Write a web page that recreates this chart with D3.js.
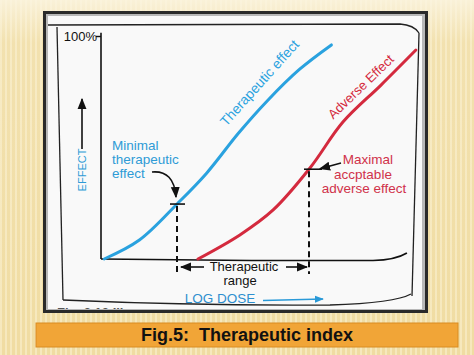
<!DOCTYPE html>
<html><head><meta charset="utf-8">
<script src="https://cdn.jsdelivr.net/npm/d3@7"></script>
<style>
html,body{margin:0;padding:0;background:#f1dfa8;}
svg{display:block;font-family:"Liberation Sans",Arial,sans-serif;}
</style></head>
<body>
<svg id="c" width="474" height="355"></svg>
<script>
// ---- data (log dose units 0-100, effect %) ----
const therapeuticDose   = [1, 12, 24, 33, 43, 52, 62, 72];
const therapeuticEffect = [0, 8.5, 25, 38.5, 56.5, 71, 85, 96];
const adverseDose       = [30.3, 43.4, 53.8, 65.3, 75.6, 87.5, 98.4];
const adverseEffect     = [0, 10.8, 22, 40.8, 61.4, 78, 93.7];
const minTherapeuticDose = 23.75;   // minimal therapeutic effect
const maxAdverseDose     = 65;      // maximal acceptable adverse effect
const yTicks = [100];
const seriesLabels = ["Therapeutic effect", "Adverse Effect"];
const minLabel = ["Minimal", "therapeutic", "effect"];
const maxLabel = ["Maximal", "accptable", "adverse effect"];
const rangeLabel = ["Therapeutic", "range"];
const xTitle = "LOG DOSE", yTitle = "EFFECT";
const bookCaption = "Fig. 2.12 Ill";
const caption = "Fig.5:  Therapeutic index";

const svg = d3.select("#c");
const defs = svg.append("defs");

// background slide
const pat = defs.append("pattern").attr("id","stripes").attr("width",5).attr("height",10)
  .attr("patternUnits","userSpaceOnUse");
pat.append("rect").attr("width",5).attr("height",10).attr("fill","#f0dca2");
pat.append("rect").attr("width",2).attr("height",10).attr("fill","#f6e8bd");
const g1 = defs.append("linearGradient").attr("id","fade").attr("x1",0).attr("y1",0).attr("x2",0).attr("y2",1);
g1.append("stop").attr("offset","0").attr("stop-color","#fbf5e2").attr("stop-opacity",0.85);
g1.append("stop").attr("offset","0.12").attr("stop-color","#fbf5e2").attr("stop-opacity",0.2);
g1.append("stop").attr("offset","1").attr("stop-color","#fbf5e2").attr("stop-opacity",0);
svg.append("rect").attr("width",474).attr("height",355).attr("fill","url(#stripes)");
svg.append("rect").attr("width",474).attr("height",355).attr("fill","url(#fade)");

// frame
svg.append("rect").attr("x",43).attr("y",11).attr("width",385).attr("height",302).attr("fill","#2a2a2a");
svg.append("rect").attr("x",46).attr("y",14).attr("width",379).attr("height",296).attr("fill","#b8b8b8");
svg.append("rect").attr("x",48).attr("y",16).attr("width",374).attr("height",293).attr("fill","#f9f9f9");

// arrow markers
function marker(id, color){
  defs.append("marker").attr("id",id).attr("viewBox","0 0 10 10").attr("refX",9).attr("refY",5)
    .attr("markerWidth",7).attr("markerHeight",7).attr("orient","auto-start-reverse")
    .append("path").attr("d","M0,1 L10,5 L0,9 Z").attr("fill",color);
}
marker("ak","#111"); marker("ab","#2a9ad8");

// clipped partial caption of the book figure (only its top shows)
defs.append("clipPath").attr("id","pc").append("rect").attr("x",48).attr("y",16).attr("width",374).attr("height",293);
svg.append("text").attr("clip-path","url(#pc)").attr("x",57).attr("y",317).attr("font-size",13)
  .attr("font-weight","bold").attr("fill","#555").text(bookCaption);

// hand-drawn paper border lines
const bl = svg.append("g").attr("fill","none").attr("stroke","#222").attr("stroke-width",1.3);
bl.append("path").attr("d","M48,25 L400,24 Q414,25 419,33");
bl.append("path").attr("d","M57,27 L63,300");
bl.append("path").attr("d","M63,300 Q200,306 330,305 Q395,303 411,294");
bl.append("path").attr("d","M419,33 L412,296");

// scales
const x = d3.scaleLinear().domain([0,100]).range([101,421]);
const y = d3.scaleLinear().domain([0,100]).range([259,36]);

// y axis
const ya = svg.append("g").attr("transform",`translate(${x(0)},0)`)
  .call(d3.axisLeft(y).tickValues(yTicks).tickFormat(d=>d+"%").tickSize(5).tickSizeOuter(0));
ya.select(".domain").attr("stroke","#111").attr("stroke-width",1.6).attr("d",`M0,${y(0)}V${y(101.5)}`);
ya.selectAll(".tick line").attr("stroke","#111").attr("stroke-width",1.4);
ya.selectAll(".tick text").attr("font-family","Liberation Sans, Arial").attr("font-size",13)
  .attr("fill","#111").attr("x",-4).attr("dy","0.36em");

// x axis (book-drawn, curling up at the right end)
svg.append("path").attr("fill","none").attr("stroke","#111").attr("stroke-width",1.6)
  .attr("d",`M${x(0)},${y(0)} L${x(0)+150},${y(0)+1.5} L${x(85)},${y(0)+1.5} Q${x(92)},${y(0)+1} ${x(95.6)},${y(0)-6}`);

// curves
const line = d3.line().x(d=>x(d[0])).y(d=>y(d[1])).curve(d3.curveCatmullRom.alpha(0.5));
const tData = therapeuticDose.map((d,i)=>[d,therapeuticEffect[i]]);
const aData = adverseDose.map((d,i)=>[d,adverseEffect[i]]);
svg.append("path").datum(tData).attr("fill","none").attr("stroke","#2aa2df").attr("stroke-width",3)
  .attr("stroke-linecap","round").attr("d",line);
svg.append("path").datum(aData).attr("fill","none").attr("stroke","#d42a3e").attr("stroke-width",3)
  .attr("stroke-linecap","round").attr("d",line);

// find effect (pixel y) on a curve at given dose
function effectAt(data, dose){
  const p = svg.append("path").attr("d", line(data)).attr("visibility","hidden").node();
  const L = p.getTotalLength(); let lo=0, hi=L;
  for(let k=0;k<40;k++){ const m=(lo+hi)/2; if(p.getPointAtLength(m).x < x(dose)) lo=m; else hi=m; }
  const pt = p.getPointAtLength(lo); p.remove(); return pt.y;
}
const yMin = effectAt(tData, minTherapeuticDose);
const yMax = effectAt(aData, maxAdverseDose);
const xm1 = x(minTherapeuticDose), xm2 = x(maxAdverseDose);

// ticks + dashed drops
const ann = svg.append("g").attr("stroke","#111").attr("fill","none");
ann.append("line").attr("x1",xm1-7).attr("x2",xm1+8).attr("y1",yMin).attr("y2",yMin).attr("stroke-width",1.6);
ann.append("line").attr("x1",xm2-5).attr("x2",xm2+13).attr("y1",yMax).attr("y2",yMax).attr("stroke-width",1.6);
ann.append("line").attr("x1",xm1).attr("x2",xm1).attr("y1",yMin+2).attr("y2",y(0)+15)
  .attr("stroke-width",2).attr("stroke-dasharray","6,4");
ann.append("line").attr("x1",xm2).attr("x2",xm2).attr("y1",yMax+2).attr("y2",y(0)+15)
  .attr("stroke-width",2).attr("stroke-dasharray","6,4");

// therapeutic range arrows
ann.append("line").attr("x1",xm1+27).attr("x2",xm1+4).attr("y1",267).attr("y2",267)
  .attr("stroke-width",1.6).attr("marker-end","url(#ak)");
ann.append("line").attr("x1",xm2-23).attr("x2",xm2-2).attr("y1",267).attr("y2",267)
  .attr("stroke-width",1.6).attr("marker-end","url(#ak)");
const rl = svg.append("text").attr("font-size",13).attr("fill","#111").attr("text-anchor","middle");
rl.append("tspan").attr("x",(xm1+xm2)/2+1).attr("y",270.5).text(rangeLabel[0]);
rl.append("tspan").attr("x",(xm1+xm2)/2-3).attr("y",285).text(rangeLabel[1]);

// minimal therapeutic effect label
const ml = svg.append("text").attr("font-size",13.5).attr("fill","#2e9bd6");
minLabel.forEach((t,i)=>ml.append("tspan").attr("x",112).attr("y",150+i*14).text(t));
svg.append("path").attr("fill","none").attr("stroke","#111").attr("stroke-width",1.6)
  .attr("d",`M152,172 Q174,170 ${xm1-1},${yMin-7}`).attr("marker-end","url(#ak)");

// maximal acceptable adverse effect label
const xl = svg.append("text").attr("font-size",13.5).attr("fill","#d0324a").attr("text-anchor","middle");
maxLabel.forEach((t,i)=>xl.append("tspan").attr("x",[368,363,364][i]).attr("y",164+i*14.5).text(t));
svg.append("line").attr("x1",341).attr("y1",163).attr("x2",xm2+11).attr("y2",yMax-0.5)
  .attr("stroke","#111").attr("stroke-width",1.6).attr("marker-end","url(#ak)");

// series labels along the curves
svg.append("text").attr("transform","translate(263,86) rotate(-48)").attr("text-anchor","middle")
  .attr("font-size",13.8).attr("fill","#2aa2df").text(seriesLabels[0]);
svg.append("text").attr("transform","translate(364,90) rotate(-44)").attr("text-anchor","middle")
  .attr("font-size",13.2).attr("fill","#d42a3e").text(seriesLabels[1]);

// y title with arrow
svg.append("text").attr("transform","translate(86,170) rotate(-90)").attr("text-anchor","middle")
  .attr("font-size",11).attr("fill","#2e9bd6").text(yTitle);
svg.append("line").attr("x1",82).attr("x2",82).attr("y1",149).attr("y2",99)
  .attr("stroke","#111").attr("stroke-width",1.6).attr("marker-end","url(#ak)");

// x title with arrow
svg.append("text").attr("x",220).attr("y",302.5).attr("text-anchor","middle").attr("font-size",13.5)
  .attr("fill","#2e8fcf").text(xTitle);
svg.append("line").attr("x1",263).attr("x2",323).attr("y1",300.5).attr("y2",299)
  .attr("stroke","#2a9ad8").attr("stroke-width",1.3).attr("marker-end","url(#ab)");

// caption bar
svg.append("rect").attr("x",36).attr("y",323).attr("width",422).attr("height",24)
  .attr("fill","#f1a537").attr("stroke","#d98c22").attr("stroke-width",1);
svg.append("text").attr("x",247).attr("y",341).attr("text-anchor","middle").attr("font-size",18)
  .attr("font-weight","bold").attr("fill","#111").style("white-space","pre").text(caption);
</script>
</body></html>
